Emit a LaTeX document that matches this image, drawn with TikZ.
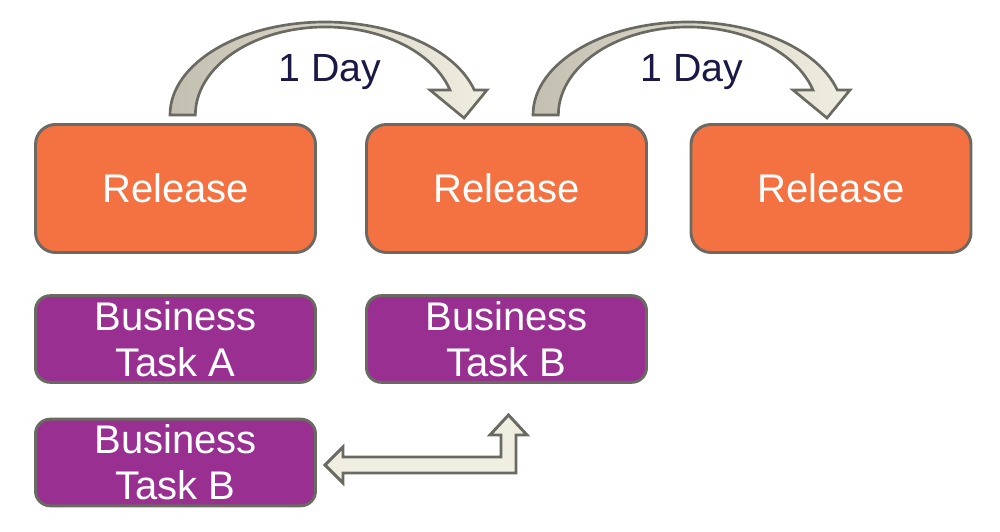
\documentclass[tikz,border=0pt]{standalone}
\usepackage{fontspec}
\setmainfont{Liberation Sans}
\definecolor{relorange}{HTML}{F47142}
\definecolor{taskpurple}{HTML}{992F91}
\definecolor{edgegray}{HTML}{6B6A62}
\definecolor{arrowgray}{HTML}{C3C0B1}
\definecolor{arrowcream}{HTML}{F0EEE0}
\definecolor{daynavy}{HTML}{1A1845}
\begin{document}
\begin{tikzpicture}[x=0.75pt,y=0.75pt,
  relbox/.style={draw=edgegray, line width=2.2pt, fill=relorange, rounded corners=15pt,
    minimum width=210pt, minimum height=96pt, text=white, font=\fontsize{30}{34}\selectfont, align=center},
  taskbox/.style={draw=edgegray, line width=2.2pt, fill=taskpurple, rounded corners=11pt,
    minimum width=210pt, minimum height=65pt, text=white, font=\fontsize{30}{34.5}\selectfont, align=center, inner sep=0pt},
  daylabel/.style={text=daynavy, font=\fontsize{29.5}{34}\selectfont},
  curvedarrow/.style={draw=edgegray, line width=2pt, line join=miter, left color=arrowgray, right color=arrowcream},
  bentarrow/.style={draw=edgegray, line width=2.2pt, line join=miter, fill=arrowcream}]
\useasboundingbox (0,0) rectangle (1000,532);
\fill[white] (0,0) rectangle (1000,532);

% curved arrows
\foreach \dx in {0,363}{
  \begin{scope}[xshift=\dx*0.75pt]
  \draw[curvedarrow] (170,417) arc[start angle=180, end angle=15.6, x radius=155, y radius=93]
     -- (487,442) -- (464,414) -- (430,442) -- (450,442)
     arc[start angle=16.5, end angle=180, x radius=130, y radius=88] -- cycle;
  \end{scope}
}
\node[daylabel] (day1) at (330,460) {1 Day};
\node[daylabel] (day2) at (692,460) {1 Day};

% release boxes
\node[relbox] (rel1) at (175.5,343.5) {Release};
\node[relbox] (rel2) at (506.5,343.5) {Release};
\node[relbox] (rel3) at (831,343.5) {Release};

% task boxes
\node[taskbox] (taskA) at (175.5,193) {Business\\Task A};
\node[taskbox] (taskB) at (506.5,193) {Business\\Task B};
\node[taskbox] (taskB2) at (175.5,69.5) {Business\\Task B};

% bent arrow
\draw[bentarrow] (325,67) -- (343,85) -- (343,75) -- (501,75) -- (501,97) -- (490,97)
  -- (508.5,117) -- (527,97) -- (516,97) -- (516,59) -- (343,59) -- (343,49) -- cycle;
\end{tikzpicture}
\end{document}
